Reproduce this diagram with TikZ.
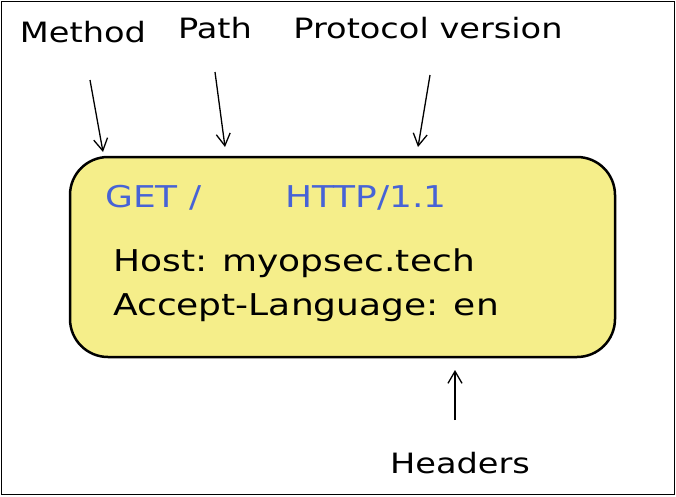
\documentclass[tikz,border=0pt]{standalone}
\usepackage{fontspec}
\setmainfont[FakeStretch=1.2]{DejaVu Sans}
\usetikzlibrary{arrows.meta}
\definecolor{boxy}{HTML}{F5EE8A}
\definecolor{blu}{HTML}{4763D6}
\begin{document}
\begin{tikzpicture}[x=1pt,y=-1pt,
  lbl/.style={font=\fontsize{28}{30}\selectfont,anchor=center,inner sep=0},
  txt/.style={font=\fontsize{30}{32}\selectfont,anchor=west,inner sep=0},
  arr/.style={line width=1.3pt,-{Straight Barb[length=12pt,width=14pt]}}]
\useasboundingbox (0,0) rectangle (676,496);
\draw[line width=1pt] (1.5,1.5) rectangle (674.5,494.5);
\draw[line width=2.5pt,fill=boxy,rounded corners=38pt] (70,157) rectangle (615,357);
\node[lbl] (method) at (83,32) {Method};
\node[lbl] (path) at (215,28) {Path};
\node[lbl] (proto) at (428,28) {Protocol version};
\node[lbl] (headers) at (460,463) {Headers};
\coordinate (m1) at (90,80); \coordinate (m2) at (103,152);
\coordinate (p1) at (215,72); \coordinate (p2) at (225,147);
\coordinate (v1) at (430,75); \coordinate (v2) at (418,147);
\coordinate (h1) at (455,420); \coordinate (h2) at (455,370);
\draw[arr] (m1) -- (m2);
\draw[arr] (p1) -- (p2);
\draw[arr] (v1) -- (v2);
\draw[arr] (h1) -- (h2);
\node[txt,text=blu] (get) at (105,198) {GET /};
\node[txt,text=blu] (http) at (285,198) {HTTP/1.1};
\node[txt] (host) at (113,263) {Host: myopsec.tech};
\node[txt] (acc) at (113,308) {Accept-Language: en};
\end{tikzpicture}
\end{document}
